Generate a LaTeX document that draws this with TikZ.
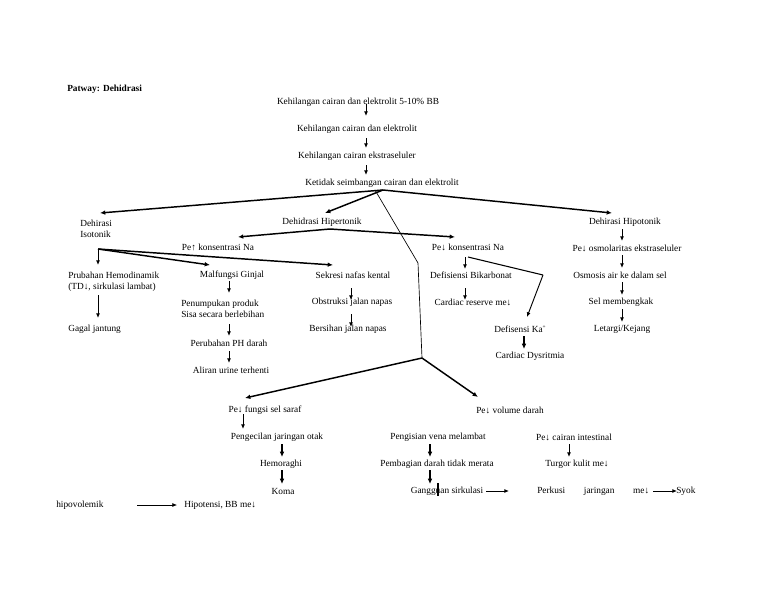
\documentclass[tikz,border=0pt]{standalone}
\usepackage{fontspec}
\setmainfont{Liberation Serif}
\usetikzlibrary{arrows.meta}
\begin{document}
\begin{tikzpicture}[x=0.75pt,y=-0.75pt,
  t/.style={inner sep=0pt,font=\fontsize{7}{8.5}\selectfont},
  tl/.style={t,anchor=west,align=left},
  a/.style={-{Latex[length=3.5pt,width=3pt]},line width=0.7pt},
  th/.style={line width=1.1pt,-{Latex[length=4pt,width=3.5pt]}}]
\useasboundingbox (0,0) rectangle (768,594);
\node[t,anchor=west,font=\fontsize{7}{8.5}\selectfont\bfseries] (title) at (67,89) {Patway: Dehidrasi};
\node[t] (k1) at (358,102) {Kehilangan cairan dan elektrolit 5-10\% BB};
\node[t] (k2) at (357,129) {Kehilangan cairan dan elektrolit};
\node[t] (k3) at (357,156) {Kehilangan cairan ekstraseluler};
\node[t] (k4) at (382,183) {Ketidak seimbangan cairan dan elektrolit};
\draw[a] (366,104) -- (366,116);
\draw[a] (366,138) -- (366,148);
\draw[a] (366,165) -- (366,175);
\coordinate (hub) at (383,190);
\node[tl] (iso) at (80,229) {Dehirasi\\Isotonik};
\node[t] (hyper) at (322,222) {Dehidrasi Hipertonik};
\node[t] (hypo) at (625,222) {Dehirasi Hipotonik};
\draw[th] (hub) -- (100,213);
\draw[th] (hub) -- (325,213);
\draw[th] (hub) -- (612,213);
\coordinate (m1) at (418,263); \coordinate (m2) at (422,358);
\draw[line width=0.5pt] (375,190) -- (m1) -- (m2);
\node[t] (peup) at (218,247) {Pe↑ konsentrasi Na};
\node[t] (pedn) at (468,247) {Pe↓ konsentrasi Na};
\coordinate (hb) at (330,229);
\draw[th] (hb) -- (238,237);
\draw[th] (hb) -- (455,237);
\coordinate (ib) at (98,249);
\node[tl] (pru) at (68,282) {Prubahan Hemodinamik\\(TD↓, sirkulasi lambat)};
\node[t] (mal) at (232,275) {Malfungsi Ginjal};
\node[t] (sek) at (353,275) {Sekresi nafas kental};
\draw[a] (ib) -- (98,265);
\draw[th] (ib) -- (210,265);
\draw[th] (ib) -- (333,265);
\node[tl] (gag) at (68,329) {Gagal jantung};
\draw[a] (98,295) -- (98,318);
\node[tl] (pen) at (181,309) {Penumpukan produk\\Sisa secara berlebihan};
\draw[a] (229,281) -- (229,293);
\node[t] (ph) at (229,343) {Perubahan PH darah};
\draw[a] (229,324) -- (229,336);
\node[t] (ali) at (231,370) {Aliran urine terhenti};
\draw[a] (229,351) -- (229,363);
\node[t] (obs) at (352,302) {Obstruksi jalan napas};
\draw[a] (351,288) -- (351,300);
\node[t] (ber) at (348,329) {Bersihan jalan napas};
\draw[a] (351,314) -- (351,327);
\node[t] (bik) at (471,275) {Defisiensi Bikarbonat};
\draw[a] (465,257) -- (465,269);
\node[t] (car) at (473,302) {Cardiac reserve me↓};
\draw[a] (465,288) -- (465,300);
\coordinate (pk) at (543,275);
\draw[line width=0.8pt] (468,257) -- (pk);
\draw[a] (pk) -- (527,317);
\node[t] (ka) at (520,329) {Defisensi Ka\raisebox{2.5pt}{\fontsize{4}{5}\selectfont +}};
\node[t] (dys) at (530,356) {Cardiac Dysritmia};
\draw[th] (524,336) -- (524,349);
\node[t] (osm) at (627,248) {Pe↓ osmolaritas ekstraseluler};
\draw[a] (622,229) -- (622,241);
\node[t] (osa) at (620,275) {Osmosis air ke dalam sel};
\draw[a] (622,255) -- (622,268);
\node[t] (sel) at (621,302) {Sel membengkak};
\draw[a] (622,282) -- (622,295);
\node[t] (let) at (622,329) {Letargi/Kejang};
\draw[a] (622,309) -- (622,322);
\node[t] (fs) at (265,410) {Pe↓ fungsi sel saraf};
\node[t] (vd) at (510,410) {Pe↓ volume darah};
\draw[th] (m2) -- (245,398);
\draw[th] (m2) -- (478,397);
\node[t] (pjo) at (277,437) {Pengecilan jaringan otak};
\draw[a] (243,414) -- (243,429);
\node[t] (hem) at (281,464) {Hemoraghi};
\draw[th] (282,444) -- (282,457);
\node[t] (kom) at (283,491) {Koma};
\draw[th] (282,470) -- (282,484);
\node[t] (pvm) at (438,437) {Pengisian vena melambat};
\draw[th] (430,444) -- (430,457);
\node[t] (pdt) at (437,464) {Pembagian darah tidak merata};
\draw[th] (430,470) -- (430,484);
\node[t] (gs) at (447,491) {Gangguan sirkulasi};
\draw[line width=1pt] (438,483) -- (438,496);
\node[t] (pci) at (574,437) {Pe↓ cairan intestinal};
\draw[a] (569,444) -- (569,457);
\node[t] (tur) at (577,464) {Turgor kulit me↓};
\node[tl] (per) at (537,491) {Perkusi\hspace{14pt}jaringan\hspace{14pt}me↓};
\node[tl] (syo) at (676,491) {Syok};
\draw[a] (gs.east) ++(3,0) -- (509,491);
\draw[a] (653,491) -- (677,491);
\node[tl] (hip) at (56,505) {hipovolemik};
\node[tl] (hbb) at (184,505) {Hipotensi, BB me↓};
\draw[a,line width=0.5pt] (137,505) -- (177,505);
\end{tikzpicture}
\end{document}
